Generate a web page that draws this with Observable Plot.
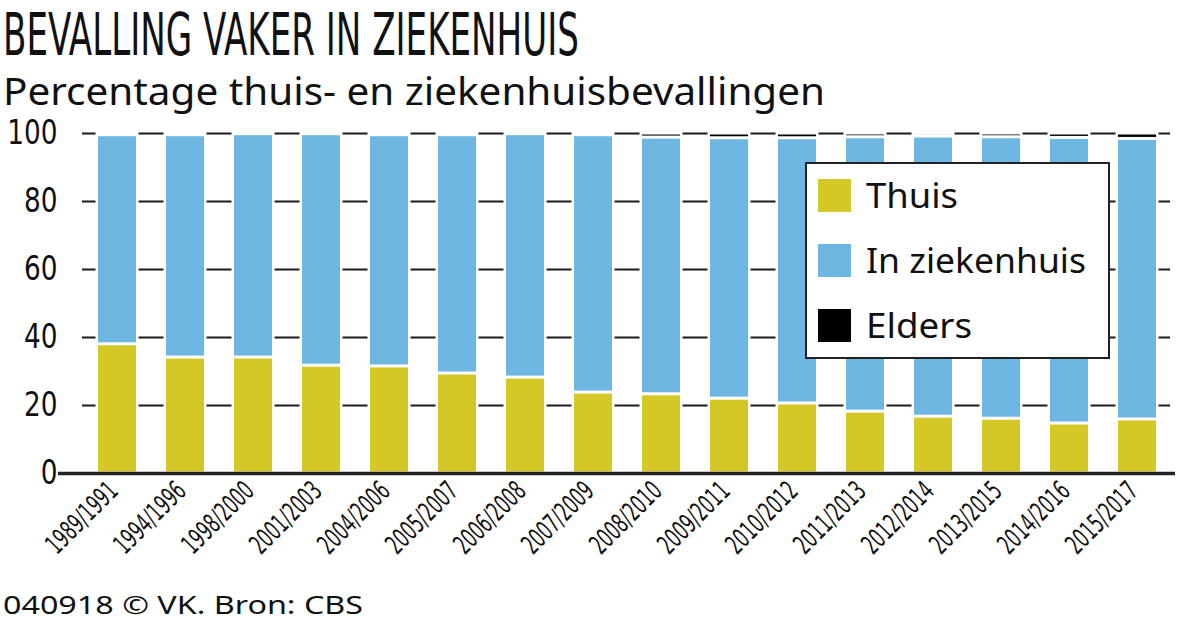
<!DOCTYPE html>
<html>
<head>
<meta charset="utf-8">
<script src="https://cdn.jsdelivr.net/npm/d3@7"></script>
<script src="https://cdn.jsdelivr.net/npm/@observablehq/plot@0.6"></script>
<style>
  html, body { margin: 0; padding: 0; background: #fff; }
  body { width: 1181px; height: 626px; overflow: hidden; position: relative; }
  #header, #footer { display: block; position: absolute; left: 0; }
  #header { top: 0; }
  #chart { position: absolute; left: 0; top: 115px; }
  #footer { top: 585px; }
  #legend { position: absolute; left: 805px; top: 162px; }
</style>
</head>
<body>
<svg id="header" width="1181" height="115">
  <text x="3" y="55" font-family="'Liberation Sans Narrow','DejaVu Sans Condensed',sans-serif" font-size="59" fill="#111" textLength="576" lengthAdjust="spacingAndGlyphs">BEVALLING VAKER IN ZIEKENHUIS</text>
  <text x="3" y="105" font-family="'Noto Sans',sans-serif" font-size="38" fill="#111" textLength="822" lengthAdjust="spacingAndGlyphs">Percentage thuis- en ziekenhuisbevallingen</text>
</svg>
<div id="chart"></div>
<svg id="legend" width="306" height="198">
  <rect x="1" y="1" width="303" height="195" fill="#fff" stroke="#222" stroke-width="2"></rect>
</svg>
<svg id="footer" width="1181" height="41">
  <text x="3" y="29" font-family="'Noto Sans',sans-serif" font-size="26" fill="#111" textLength="360" lengthAdjust="spacingAndGlyphs">040918 © VK. Bron: CBS</text>
</svg>
<script>
const categories = ["1989/1991","1994/1996","1998/2000","2001/2003","2004/2006","2005/2007","2006/2008","2007/2009","2008/2010","2009/2011","2010/2012","2011/2013","2012/2014","2013/2015","2014/2016","2015/2017"];
const thuis  = [38.0, 34.1, 34.1, 31.7, 31.5, 29.4, 28.2, 23.8, 23.3, 22.0, 20.6, 18.2, 16.7, 16.1, 14.7, 15.9];
const elders = [0.5, 0.5, 0.2, 0.2, 0.5, 0.5, 0.2, 0.5, 1.2, 1.4, 1.4, 1.1, 0.9, 1.1, 1.3, 1.6];
const ziekenhuis = [61.5, 65.4, 65.7, 68.1, 68.0, 70.1, 71.6, 75.7, 75.5, 76.6, 78.0, 80.7, 82.4, 82.8, 84.0, 82.5];
const seriesNames = ["Thuis", "In ziekenhuis", "Elders"];
const seriesColors = ["#d3c826", "#6fb7e3", "#000000"];
const yTicks = [0, 20, 40, 60, 80, 100];

const seriesValues = [thuis, ziekenhuis, elders];
const data = categories.flatMap((c, i) => seriesNames.map((s, k) => ({period: c, series: s, value: seriesValues[k][i]})));

const narrow = "'Liberation Sans Narrow','DejaVu Sans Condensed',sans-serif";

const chart = Plot.plot({
  width: 1181,
  height: 470,
  marginLeft: 79,
  marginRight: 6,
  marginTop: 18,
  marginBottom: 112,
  style: {fontFamily: narrow, color: "#111", background: "transparent", overflow: "visible"},
  x: {domain: categories, paddingInner: 0.44, paddingOuter: 0.22, label: null},
  y: {domain: [0, 100], label: null},
  color: {domain: seriesNames, range: seriesColors},
  marks: [
    Plot.ruleY(yTicks.filter(d => d > 0), {stroke: "#1a1a1a", strokeWidth: 1.8, insetLeft: 3, insetRight: 5}),
    Plot.barY(categories, {x: d => d, y1: 0, y2: 100, fill: "#fff", insetLeft: -2.5, insetRight: -2.5, insetTop: -3}),
    Plot.barY(data, {x: "period", y: "value", fill: "series", order: seriesNames, insetTop: 1.5, insetBottom: 1.5}),
    Plot.ruleY([0], {stroke: "#222", strokeWidth: 3.4, insetLeft: -21}),
    Plot.axisY({ticks: yTicks, tickSize: 0, tickPadding: 22, fontSize: 34, fontFamily: narrow, label: null}),
    Plot.axisX({tickSize: 0, tickRotate: -45, tickPadding: 13, dx: -4, fontSize: 27, fontFamily: narrow, label: null})
  ]
});
document.getElementById("chart").appendChild(chart);

// condense axis labels to match the narrow reference face
d3.select(chart).selectAll("g[aria-label='y-axis tick label'] text").each(function() {
  const l = this.getComputedTextLength();
  d3.select(this).attr("textLength", l * 0.86).attr("lengthAdjust", "spacingAndGlyphs");
});
d3.select(chart).selectAll("g[aria-label='x-axis tick label'] text").each(function() {
  d3.select(this).attr("textLength", 89).attr("lengthAdjust", "spacingAndGlyphs");
});

// legend
const legend = d3.select("#legend");
const lw = [92, 220, 106];
seriesNames.forEach((s, k) => {
  legend.append("rect").attr("x", 13).attr("y", 17 + k * 65).attr("width", 33).attr("height", 33).attr("fill", seriesColors[k]);
  legend.append("text").attr("x", 61).attr("y", 46 + k * 65)
    .attr("font-family", "'Noto Sans',sans-serif").attr("font-size", 35).attr("fill", "#111")
    .attr("textLength", lw[k]).attr("lengthAdjust", "spacingAndGlyphs").text(s);
});
</script>
</body>
</html>
